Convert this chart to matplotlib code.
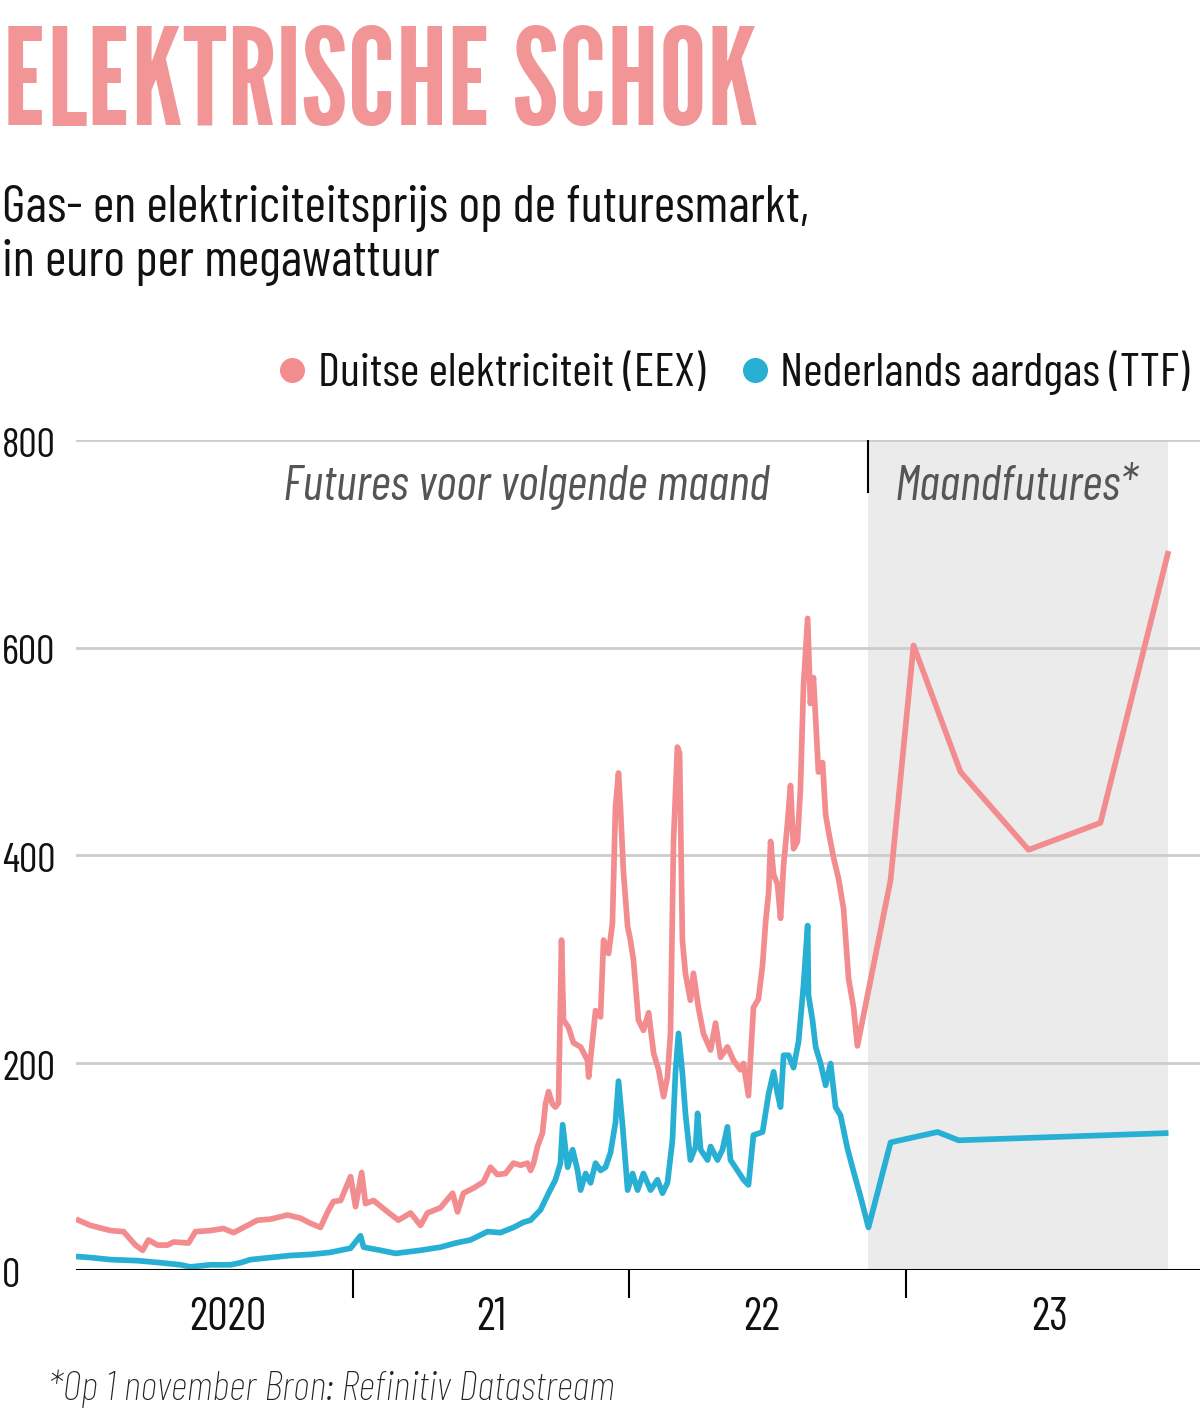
import matplotlib
matplotlib.use("Agg")
import matplotlib.pyplot as plt
import matplotlib.transforms as mtrans
from matplotlib import font_manager as fm
from matplotlib.lines import Line2D

# ---------------- data ----------------
# Duitse elektriciteit (EEX), futures voor volgende maand, decimal years
eex_year = [2020.000, 2020.052, 2020.125, 2020.172, 2020.215, 2020.241, 2020.262, 2020.295, 2020.331, 2020.353,
            2020.407, 2020.432, 2020.486, 2020.533, 2020.570, 2020.606, 2020.656, 2020.703, 2020.765, 2020.812,
            2020.848, 2020.884, 2020.910, 2020.931, 2020.957, 2020.993, 2021.011, 2021.033, 2021.047, 2021.076,
            2021.127, 2021.166, 2021.210, 2021.246, 2021.271, 2021.318, 2021.362, 2021.380, 2021.401, 2021.438,
            2021.474, 2021.499, 2021.524, 2021.553, 2021.582, 2021.608, 2021.633, 2021.644, 2021.655, 2021.669,
            2021.687, 2021.698, 2021.709, 2021.723, 2021.734, 2021.745, 2021.756, 2021.763, 2021.781, 2021.799,
            2021.825, 2021.850, 2021.854, 2021.868, 2021.879, 2021.897, 2021.908, 2021.926, 2021.940, 2021.951,
            2021.962, 2021.969, 2021.980, 2021.995, 2022.005, 2022.016, 2022.034, 2022.052, 2022.071, 2022.089,
            2022.107, 2022.125, 2022.139, 2022.150, 2022.161, 2022.175, 2022.183, 2022.193, 2022.204, 2022.222,
            2022.233, 2022.251, 2022.269, 2022.295, 2022.313, 2022.331, 2022.356, 2022.378, 2022.403, 2022.414,
            2022.432, 2022.450, 2022.468, 2022.483, 2022.494, 2022.505, 2022.512, 2022.523, 2022.537, 2022.548,
            2022.559, 2022.573, 2022.584, 2022.595, 2022.609, 2022.620, 2022.631, 2022.646, 2022.656, 2022.667,
            2022.685, 2022.700, 2022.711, 2022.722, 2022.740, 2022.758, 2022.776, 2022.794, 2022.812, 2022.826]
eex_value = [49, 43, 38, 37, 24, 19, 29, 24, 24, 27,
             26, 37, 38, 40, 36, 41, 48, 49, 53, 50,
             45, 41, 56, 66, 67, 90, 61, 94, 64, 67,
             56, 48, 55, 43, 55, 60, 74, 56, 74, 79,
             85, 99, 92, 93, 103, 101, 103, 96, 103, 119,
             132, 160, 172, 160, 157, 161, 318, 241, 234, 219,
             215, 202, 186, 222, 250, 244, 318, 305, 334, 446,
             479, 446, 383, 331, 318, 299, 241, 231, 248, 209,
             193, 167, 186, 228, 414, 504, 498, 318, 286, 260,
             286, 253, 228, 212, 238, 205, 215, 202, 193, 199,
             168, 253, 261, 294, 335, 364, 413, 381, 372, 339,
             390, 430, 467, 406, 413, 464, 563, 628, 546, 571,
             480, 489, 439, 422, 397, 377, 348, 281, 253, 216]
# EEX maandfutures (op 1 november)
eex_fut_year = [2022.946, 2023.029, 2023.199, 2023.445, 2023.705, 2023.951]
eex_fut_value = [376, 602, 480, 405, 431, 693]

# Nederlands aardgas (TTF), futures voor volgende maand
ttf_year = [2020.000, 2020.052, 2020.125, 2020.222, 2020.306, 2020.378, 2020.414, 2020.486, 2020.559, 2020.595,
            2020.631, 2020.703, 2020.776, 2020.848, 2020.920, 2020.993, 2021.029, 2021.040, 2021.101, 2021.156,
            2021.246, 2021.318, 2021.373, 2021.427, 2021.488, 2021.535, 2021.582, 2021.618, 2021.644, 2021.680,
            2021.709, 2021.734, 2021.752, 2021.760, 2021.778, 2021.796, 2021.814, 2021.825, 2021.843, 2021.861,
            2021.879, 2021.897, 2021.915, 2021.933, 2021.951, 2021.962, 2021.977, 2021.995, 2022.013, 2022.031,
            2022.052, 2022.078, 2022.103, 2022.121, 2022.139, 2022.157, 2022.168, 2022.179, 2022.193, 2022.204,
            2022.222, 2022.241, 2022.248, 2022.259, 2022.284, 2022.295, 2022.320, 2022.338, 2022.356, 2022.367,
            2022.392, 2022.414, 2022.432, 2022.450, 2022.483, 2022.505, 2022.523, 2022.537, 2022.548, 2022.559,
            2022.577, 2022.595, 2022.613, 2022.631, 2022.646, 2022.649, 2022.664, 2022.675, 2022.693, 2022.711,
            2022.729, 2022.747, 2022.765, 2022.790, 2022.812, 2022.837]
ttf_value = [13, 12, 10, 9, 7, 5, 3, 5, 5, 7,
             10, 12, 14, 15, 17, 21, 33, 22, 19, 16,
             19, 22, 26, 29, 37, 36, 41, 46, 48, 58,
             74, 87, 103, 140, 99, 116, 96, 77, 93, 84,
             103, 96, 99, 113, 142, 182, 138, 77, 93, 77,
             93, 77, 87, 74, 84, 125, 190, 228, 190, 151,
             106, 119, 151, 116, 106, 119, 106, 116, 138, 106,
             96, 87, 82, 130, 133, 170, 191, 170, 157, 207,
             207, 195, 220, 274, 332, 265, 240, 215, 199, 178,
             199, 157, 149, 117, 95, 71]
ttf_fut_year = [2022.866, 2022.946, 2023.116, 2023.192, 2023.951]
ttf_fut_value = [41, 123, 133, 125, 132]

futures_start = 2022.866
y_ticks = [0, 200, 400, 600, 800]
year_label_pos = [2020.55, 2021.5, 2022.48, 2023.52]
year_labels = ["2020", "21", "22", "23"]
year_bounds = [2021, 2022, 2023]

title = "ELEKTRISCHE SCHOK"
subtitle1 = "Gas- en elektriciteitsprijs op de futuresmarkt,"
subtitle2 = "in euro per megawattuur"
legend_labels = ["Duitse elektriciteit (EEX)", "Nederlands aardgas (TTF)"]
note_left = "Futures voor volgende maand"
note_right = "Maandfutures*"
footer = "*Op 1 november Bron: Refinitiv Datastream"

# ---------------- style ----------------
PINK = "#f28c8f"
TITLE_PINK = "#f29596"
BLUE = "#28afd4"
SHADE = "#ebebeb"
GRID = "#cccccc"

available = {f.name for f in fm.fontManager.ttflist}


def pick(*cands):
    for c in cands:
        if c in available:
            return c
    return "DejaVu Sans"


TITLE_FONT = pick("League Gothic", "Antonio", "Oswald", "Sofia Sans Extra Condensed")
BODY_FONT = pick("Barlow Condensed", "Sofia Sans Condensed", "Roboto Condensed", "Archivo Narrow")

W, H = 1200, 1410
fig = plt.figure(figsize=(W / 100, H / 100), dpi=100)


def fx(px):
    return px / W


def fy(py):
    return 1 - py / H


ax = fig.add_axes([fx(76), fy(1270), (W - 76) / W, 830 / H])
ax.set_xlim(2020.0, 2024.065)
ax.set_ylim(0, 800)
for s in ax.spines.values():
    s.set_visible(False)

ax.axvspan(futures_start, eex_fut_year[-1], color=SHADE, zorder=0, lw=0)
for v in y_ticks[1:]:
    ax.axhline(v, color=GRID, lw=2, zorder=1)
ax.axhline(0, color="black", lw=2.2, zorder=6)
ax.axvline(futures_start, ymin=1 - 52 / 830, ymax=1, color="black", lw=1.5, zorder=6)

ax.plot(eex_year + eex_fut_year, eex_value + eex_fut_value, color=PINK, lw=4.1,
        solid_joinstyle="round", solid_capstyle="butt", zorder=4)
ax.plot(ttf_year + ttf_fut_year, ttf_value + ttf_fut_value, color=BLUE, lw=4.1,
        solid_joinstyle="round", solid_capstyle="butt", zorder=5)

ax.set_xticks(year_bounds)
ax.set_yticks([])
ax.tick_params(axis="x", length=20, width=1.5, color="black", labelbottom=False, direction="out")

renderer = fig.canvas.get_renderer()


def fit(t, target):
    for _ in range(2):
        w = t.get_window_extent(renderer).width
        t.set_fontsize(t.get_fontsize() * target / w)
    return t


# y labels
ytr = mtrans.offset_copy(mtrans.blended_transform_factory(fig.transFigure, ax.transData),
                         fig=fig, x=0, y=-17, units="dots")
ylabs = []
for v in y_ticks:
    t = fig.text(fx(2), v, str(v), transform=ytr, ha="left", va="baseline",
                 family=BODY_FONT, fontsize=30, color="#111111")
    ylabs.append(t)
fit(ylabs[-1], 54)
for t in ylabs:
    t.set_fontsize(ylabs[-1].get_fontsize())

# x labels
xtr = mtrans.blended_transform_factory(ax.transData, fig.transFigure)
xlabs = []
for x, lab in zip(year_label_pos, year_labels):
    t = fig.text(x, fy(1330), lab, transform=xtr, ha="center", va="baseline",
                 family=BODY_FONT, fontsize=30, color="#111111")
    xlabs.append(t)
fit(xlabs[0], 77)
for t in xlabs:
    t.set_fontsize(xlabs[0].get_fontsize())

# title & subtitle
t = fig.text(fx(3), fy(125), title, ha="left", va="baseline", family=TITLE_FONT,
             fontsize=100, color=TITLE_PINK, weight="bold")
fit(t, 755)
t = fig.text(fx(2), fy(222), subtitle1, ha="left", va="baseline", family=BODY_FONT,
             fontsize=34, color="#111111")
fit(t, 808)
sub_fs = t.get_fontsize()
fig.text(fx(2), fy(276), subtitle2, ha="left", va="baseline", family=BODY_FONT,
         fontsize=sub_fs, color="#111111")

# legend
for cx, col in [(292, PINK), (755, BLUE)]:
    fig.add_artist(Line2D([fx(cx)], [fy(370)], transform=fig.transFigure, marker="o",
                          ms=17, color=col, linestyle="none"))
t1 = fig.text(fx(318), fy(386), legend_labels[0], ha="left", va="baseline",
              family=BODY_FONT, fontsize=34, color="#111111")
fit(t1, 387)
t2 = fig.text(fx(780), fy(386), legend_labels[1], ha="left", va="baseline",
              family=BODY_FONT, fontsize=t1.get_fontsize(), color="#111111")

# annotations
t = fig.text(fx(283), fy(500), note_left, ha="left", va="baseline", family=BODY_FONT,
             style="italic", weight="normal", fontsize=30, color="#555555")
fit(t, 487)
fig.text(fx(895), fy(500), note_right, ha="left", va="baseline", family=BODY_FONT,
         style="italic", weight="normal", fontsize=t.get_fontsize(), color="#555555")

# footer
t = fig.text(fx(48), fy(1400), footer, ha="left", va="baseline", family=BODY_FONT,
             style="italic", weight="light", fontsize=26, color="#222222")
fit(t, 567)

fig.savefig("out.png", dpi=100)
